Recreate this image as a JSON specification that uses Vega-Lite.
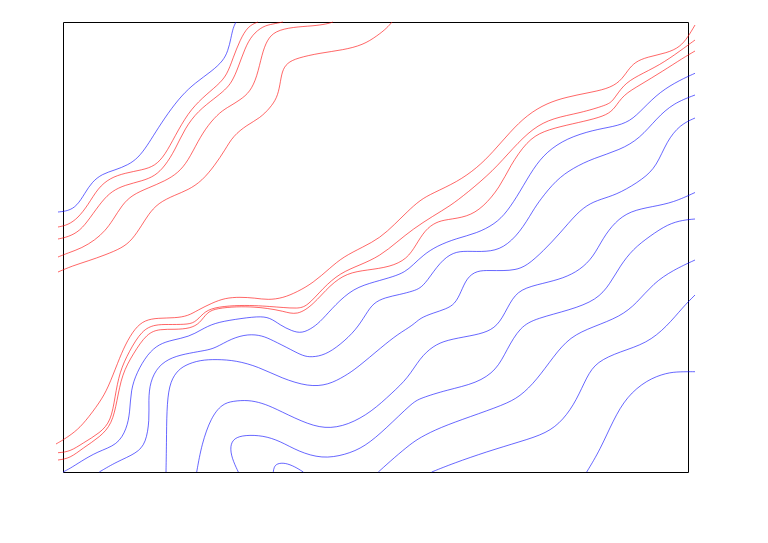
{
"$schema": "https://vega.github.io/schema/vega-lite/v6.json",
"width": 625, "height": 450, "autosize": "none",
"padding": {"left": 63, "top": 22, "right": 80, "bottom": 71},
"background": "white",
"config": {"view": {"stroke": "#000", "strokeWidth": 1}},
"datasets": {"pts": [
{"s":"B1","x":-5,"y":260},{"s":"B1","x":5,"y":261},{"s":"B1","x":14,"y":266},{"s":"B1","x":22,"y":279},{"s":"B1","x":29,"y":290},{"s":"B1","x":39,"y":298},{"s":"B1","x":52,"y":302},{"s":"B1","x":65,"y":307},{"s":"B1","x":75,"y":314},{"s":"B1","x":84,"y":326},{"s":"B1","x":92,"y":339},{"s":"B1","x":105,"y":359},{"s":"B1","x":119,"y":377},{"s":"B1","x":132,"y":389},{"s":"B1","x":149,"y":401},{"s":"B1","x":160,"y":411},{"s":"B1","x":165,"y":421},{"s":"B1","x":168,"y":434},{"s":"B1","x":170,"y":444},{"s":"B1","x":173,"y":450},
{"s":"R1","x":-5,"y":245},{"s":"R1","x":5,"y":247},{"s":"R1","x":15,"y":254},{"s":"R1","x":25,"y":267},{"s":"R1","x":35,"y":284},{"s":"R1","x":47,"y":294},{"s":"R1","x":62,"y":299},{"s":"R1","x":79,"y":302},{"s":"R1","x":92,"y":306},{"s":"R1","x":102,"y":317},{"s":"R1","x":112,"y":336},{"s":"R1","x":125,"y":359},{"s":"R1","x":139,"y":374},{"s":"R1","x":155,"y":387},{"s":"R1","x":164,"y":397},{"s":"R1","x":170,"y":414},{"s":"R1","x":177,"y":432},{"s":"R1","x":185,"y":446},{"s":"R1","x":195,"y":450},
{"s":"R2","x":-5,"y":233},{"s":"R2","x":5,"y":235},{"s":"R2","x":17,"y":241},{"s":"R2","x":27,"y":254},{"s":"R2","x":39,"y":271},{"s":"R2","x":49,"y":281},{"s":"R2","x":62,"y":287},{"s":"R2","x":79,"y":291},{"s":"R2","x":92,"y":296},{"s":"R2","x":102,"y":306},{"s":"R2","x":112,"y":322},{"s":"R2","x":122,"y":344},{"s":"R2","x":135,"y":361},{"s":"R2","x":152,"y":374},{"s":"R2","x":162,"y":382},{"s":"R2","x":169,"y":390},{"s":"R2","x":175,"y":404},{"s":"R2","x":182,"y":424},{"s":"R2","x":189,"y":437},{"s":"R2","x":200,"y":446},{"s":"R2","x":210,"y":448},{"s":"R2","x":220,"y":450},
{"s":"R3","x":-5,"y":215},{"s":"R3","x":5,"y":219},{"s":"R3","x":19,"y":224},{"s":"R3","x":32,"y":232},{"s":"R3","x":42,"y":241},{"s":"R3","x":50,"y":252},{"s":"R3","x":59,"y":267},{"s":"R3","x":69,"y":277},{"s":"R3","x":85,"y":284},{"s":"R3","x":102,"y":291},{"s":"R3","x":115,"y":299},{"s":"R3","x":125,"y":311},{"s":"R3","x":135,"y":331},{"s":"R3","x":145,"y":347},{"s":"R3","x":157,"y":360},{"s":"R3","x":167,"y":366},{"s":"R3","x":177,"y":372},{"s":"R3","x":187,"y":380},{"s":"R3","x":194,"y":395},{"s":"R3","x":199,"y":418},{"s":"R3","x":204,"y":432},{"s":"R3","x":212,"y":441},{"s":"R3","x":230,"y":445},{"s":"R3","x":250,"y":446},{"s":"R3","x":264,"y":448},{"s":"R3","x":270,"y":450},
{"s":"R4","x":-5,"y":200},{"s":"R4","x":9,"y":206},{"s":"R4","x":25,"y":211},{"s":"R4","x":42,"y":217},{"s":"R4","x":59,"y":224},{"s":"R4","x":69,"y":232},{"s":"R4","x":79,"y":247},{"s":"R4","x":85,"y":257},{"s":"R4","x":95,"y":269},{"s":"R4","x":112,"y":277},{"s":"R4","x":125,"y":282},{"s":"R4","x":139,"y":291},{"s":"R4","x":152,"y":307},{"s":"R4","x":162,"y":322},{"s":"R4","x":170,"y":336},{"s":"R4","x":184,"y":347},{"s":"R4","x":197,"y":354},{"s":"R4","x":207,"y":364},{"s":"R4","x":214,"y":374},{"s":"R4","x":217,"y":387},{"s":"R4","x":219,"y":401},{"s":"R4","x":224,"y":409},{"s":"R4","x":234,"y":414},{"s":"R4","x":257,"y":419},{"s":"R4","x":280,"y":422},{"s":"R4","x":300,"y":427},{"s":"R4","x":314,"y":436},{"s":"R4","x":324,"y":444},{"s":"R4","x":329,"y":450},
{"s":"R5","x":-7,"y":28},{"s":"R5","x":0,"y":32},{"s":"R5","x":12,"y":40},{"s":"R5","x":22,"y":50},{"s":"R5","x":37,"y":70},{"s":"R5","x":45,"y":84},{"s":"R5","x":55,"y":110},{"s":"R5","x":62,"y":127},{"s":"R5","x":72,"y":144},{"s":"R5","x":82,"y":152},{"s":"R5","x":95,"y":154},{"s":"R5","x":112,"y":154},{"s":"R5","x":125,"y":156},{"s":"R5","x":135,"y":162},{"s":"R5","x":149,"y":169},{"s":"R5","x":162,"y":174},{"s":"R5","x":177,"y":175},{"s":"R5","x":192,"y":174},{"s":"R5","x":205,"y":172},{"s":"R5","x":220,"y":174},{"s":"R5","x":234,"y":180},{"s":"R5","x":250,"y":189},{"s":"R5","x":267,"y":204},{"s":"R5","x":280,"y":215},{"s":"R5","x":300,"y":225},{"s":"R5","x":317,"y":234},{"s":"R5","x":332,"y":248},{"s":"R5","x":344,"y":260},{"s":"R5","x":357,"y":272},{"s":"R5","x":370,"y":279},{"s":"R5","x":394,"y":290},{"s":"R5","x":414,"y":304},{"s":"R5","x":430,"y":320},{"s":"R5","x":447,"y":340},{"s":"R5","x":464,"y":357},{"s":"R5","x":484,"y":369},{"s":"R5","x":504,"y":375},{"s":"R5","x":524,"y":379},{"s":"R5","x":544,"y":383},{"s":"R5","x":557,"y":390},{"s":"R5","x":565,"y":402},{"s":"R5","x":572,"y":410},{"s":"R5","x":584,"y":415},{"s":"R5","x":604,"y":419},{"s":"R5","x":617,"y":425},{"s":"R5","x":625,"y":435},{"s":"R5","x":632,"y":447},
{"s":"R6","x":-5,"y":19.3},{"s":"R6","x":7,"y":20.3},{"s":"R6","x":20,"y":29},{"s":"R6","x":37,"y":39},{"s":"R6","x":48,"y":51},{"s":"R6","x":52,"y":75},{"s":"R6","x":56.5,"y":100},{"s":"R6","x":66,"y":120.5},{"s":"R6","x":79,"y":142},{"s":"R6","x":92,"y":147.5},{"s":"R6","x":105,"y":147.5},{"s":"R6","x":122,"y":147.5},{"s":"R6","x":132,"y":149},{"s":"R6","x":140,"y":159},{"s":"R6","x":150,"y":164.5},{"s":"R6","x":172,"y":166.7},{"s":"R6","x":192,"y":166.5},{"s":"R6","x":207,"y":165.5},{"s":"R6","x":220,"y":164.5},{"s":"R6","x":234,"y":163.5},{"s":"R6","x":244,"y":165.3},{"s":"R6","x":260,"y":184},{"s":"R6","x":277,"y":199},{"s":"R6","x":297,"y":207},{"s":"R6","x":317,"y":216},{"s":"R6","x":334,"y":230},{"s":"R6","x":350,"y":243},{"s":"R6","x":370,"y":256},{"s":"R6","x":387,"y":266},{"s":"R6","x":404,"y":279},{"s":"R6","x":430,"y":301},{"s":"R6","x":450,"y":324},{"s":"R6","x":470,"y":344},{"s":"R6","x":490,"y":354},{"s":"R6","x":517,"y":359},{"s":"R6","x":544,"y":367},{"s":"R6","x":550,"y":371},{"s":"R6","x":560,"y":387},{"s":"R6","x":574,"y":396},{"s":"R6","x":597,"y":407},{"s":"R6","x":617,"y":421},{"s":"R6","x":632,"y":432},
{"s":"R7","x":-5,"y":12},{"s":"R7","x":7,"y":13.7},{"s":"R7","x":20,"y":24},{"s":"R7","x":37,"y":35},{"s":"R7","x":49,"y":48},{"s":"R7","x":54,"y":71},{"s":"R7","x":59,"y":98},{"s":"R7","x":70,"y":118},{"s":"R7","x":84,"y":139},{"s":"R7","x":97,"y":143},{"s":"R7","x":112,"y":142.5},{"s":"R7","x":127,"y":143.5},{"s":"R7","x":137,"y":148.7},{"s":"R7","x":144,"y":160},{"s":"R7","x":154,"y":163.7},{"s":"R7","x":174,"y":165.5},{"s":"R7","x":192,"y":165},{"s":"R7","x":204,"y":163.7},{"s":"R7","x":220,"y":161},{"s":"R7","x":234,"y":156.5},{"s":"R7","x":250,"y":167},{"s":"R7","x":267,"y":187},{"s":"R7","x":284,"y":199},{"s":"R7","x":304,"y":202},{"s":"R7","x":327,"y":205},{"s":"R7","x":344,"y":213},{"s":"R7","x":353,"y":227},{"s":"R7","x":362,"y":242},{"s":"R7","x":373,"y":250},{"s":"R7","x":384,"y":252.5},{"s":"R7","x":404,"y":255},{"s":"R7","x":420,"y":264.5},{"s":"R7","x":437,"y":285},{"s":"R7","x":447,"y":306},{"s":"R7","x":464,"y":331},{"s":"R7","x":480,"y":341},{"s":"R7","x":504,"y":347},{"s":"R7","x":527,"y":352},{"s":"R7","x":544,"y":357},{"s":"R7","x":552,"y":364},{"s":"R7","x":560,"y":377},{"s":"R7","x":577,"y":387},{"s":"R7","x":600,"y":401},{"s":"R7","x":620,"y":414},{"s":"R7","x":632,"y":421},
{"s":"B2","x":0,"y":0},{"s":"B2","x":7,"y":3.5},{"s":"B2","x":17,"y":10},{"s":"B2","x":34.5,"y":20.5},{"s":"B2","x":54.5,"y":27},{"s":"B2","x":63.7,"y":43},{"s":"B2","x":67,"y":60},{"s":"B2","x":67.8,"y":82},{"s":"B2","x":73.7,"y":99.5},{"s":"B2","x":84.5,"y":118},{"s":"B2","x":96,"y":128},{"s":"B2","x":109.5,"y":132},{"s":"B2","x":126,"y":135.3},{"s":"B2","x":137.8,"y":142},{"s":"B2","x":151,"y":149},{"s":"B2","x":172,"y":152.7},{"s":"B2","x":195.3,"y":155.8},{"s":"B2","x":207,"y":154.5},{"s":"B2","x":217,"y":147},{"s":"B2","x":228.7,"y":141},{"s":"B2","x":239,"y":138.5},{"s":"B2","x":250.3,"y":144.5},{"s":"B2","x":259,"y":152},{"s":"B2","x":272,"y":167},{"s":"B2","x":290.3,"y":183.7},{"s":"B2","x":312,"y":190.3},{"s":"B2","x":330.3,"y":195.3},{"s":"B2","x":342,"y":200},{"s":"B2","x":350,"y":207},{"s":"B2","x":360.3,"y":217},{"s":"B2","x":373.7,"y":226},{"s":"B2","x":393.7,"y":233.7},{"s":"B2","x":413.7,"y":238.7},{"s":"B2","x":432,"y":248},{"s":"B2","x":444,"y":260},{"s":"B2","x":457,"y":280.3},{"s":"B2","x":470.3,"y":303.7},{"s":"B2","x":483.7,"y":320.3},{"s":"B2","x":503.7,"y":333.7},{"s":"B2","x":530.3,"y":342},{"s":"B2","x":550.3,"y":345.3},{"s":"B2","x":567,"y":350.3},{"s":"B2","x":580.3,"y":363.7},{"s":"B2","x":597,"y":380.3},{"s":"B2","x":617,"y":392},{"s":"B2","x":632,"y":398.7},
{"s":"B3","x":36.3,"y":0},{"s":"B3","x":53.7,"y":10.3},{"s":"B3","x":73.7,"y":18.7},{"s":"B3","x":83,"y":29},{"s":"B3","x":86.5,"y":52},{"s":"B3","x":85.5,"y":72},{"s":"B3","x":87,"y":90},{"s":"B3","x":95,"y":106},{"s":"B3","x":109,"y":115},{"s":"B3","x":127,"y":119},{"s":"B3","x":142,"y":121.5},{"s":"B3","x":152,"y":123.7},{"s":"B3","x":168.7,"y":133.7},{"s":"B3","x":185.3,"y":138},{"s":"B3","x":199,"y":136.5},{"s":"B3","x":209,"y":132},{"s":"B3","x":228.7,"y":122},{"s":"B3","x":240,"y":116},{"s":"B3","x":248.7,"y":114.7},{"s":"B3","x":262,"y":117},{"s":"B3","x":277,"y":127},{"s":"B3","x":293,"y":142},{"s":"B3","x":303,"y":158},{"s":"B3","x":310.3,"y":169},{"s":"B3","x":322,"y":174.5},{"s":"B3","x":337,"y":177.5},{"s":"B3","x":350.3,"y":181},{"s":"B3","x":357,"y":183.7},{"s":"B3","x":363.7,"y":190.3},{"s":"B3","x":377,"y":210},{"s":"B3","x":390.3,"y":220},{"s":"B3","x":403.7,"y":221},{"s":"B3","x":423.7,"y":220},{"s":"B3","x":440.3,"y":223.7},{"s":"B3","x":457,"y":239.5},{"s":"B3","x":470.3,"y":262},{"s":"B3","x":477,"y":272},{"s":"B3","x":493,"y":292},{"s":"B3","x":510,"y":304},{"s":"B3","x":530.3,"y":313.7},{"s":"B3","x":557,"y":322},{"s":"B3","x":577,"y":333.7},{"s":"B3","x":593.7,"y":353.7},{"s":"B3","x":610.3,"y":368.7},{"s":"B3","x":632,"y":377},
{"s":"B4","x":103,"y":0},{"s":"B4","x":103.5,"y":29},{"s":"B4","x":103.7,"y":62},{"s":"B4","x":106,"y":87},{"s":"B4","x":113,"y":100},{"s":"B4","x":122,"y":107},{"s":"B4","x":137,"y":112},{"s":"B4","x":153.7,"y":112.7},{"s":"B4","x":173,"y":111.5},{"s":"B4","x":195.3,"y":105.3},{"s":"B4","x":218.7,"y":93.7},{"s":"B4","x":245.3,"y":85.3},{"s":"B4","x":265.3,"y":87},{"s":"B4","x":282,"y":96},{"s":"B4","x":294,"y":104},{"s":"B4","x":318.7,"y":125},{"s":"B4","x":335,"y":138},{"s":"B4","x":350.3,"y":147},{"s":"B4","x":357,"y":154},{"s":"B4","x":370.3,"y":159},{"s":"B4","x":383,"y":163},{"s":"B4","x":392,"y":168},{"s":"B4","x":398,"y":180},{"s":"B4","x":403.7,"y":194},{"s":"B4","x":413.7,"y":201.5},{"s":"B4","x":427,"y":201.5},{"s":"B4","x":440.3,"y":201.3},{"s":"B4","x":452,"y":202},{"s":"B4","x":463.7,"y":206},{"s":"B4","x":480.3,"y":221},{"s":"B4","x":497,"y":238.7},{"s":"B4","x":513.7,"y":258.7},{"s":"B4","x":527,"y":269},{"s":"B4","x":542,"y":274},{"s":"B4","x":557,"y":279},{"s":"B4","x":580.3,"y":293},{"s":"B4","x":593.7,"y":306},{"s":"B4","x":603.7,"y":330.7},{"s":"B4","x":617,"y":347.3},{"s":"B4","x":632,"y":354},
{"s":"B5","x":133.7,"y":0},{"s":"B5","x":138.7,"y":28},{"s":"B5","x":148,"y":54.5},{"s":"B5","x":159,"y":68},{"s":"B5","x":170,"y":71},{"s":"B5","x":185.3,"y":72},{"s":"B5","x":199,"y":69},{"s":"B5","x":212,"y":63.7},{"s":"B5","x":238.7,"y":50.3},{"s":"B5","x":262,"y":42.7},{"s":"B5","x":285.3,"y":47},{"s":"B5","x":308.7,"y":60.3},{"s":"B5","x":328.7,"y":78.7},{"s":"B5","x":345,"y":94},{"s":"B5","x":357,"y":114},{"s":"B5","x":370,"y":126},{"s":"B5","x":383.7,"y":132},{"s":"B5","x":407,"y":136},{"s":"B5","x":425,"y":140},{"s":"B5","x":437,"y":148.7},{"s":"B5","x":447,"y":170},{"s":"B5","x":457,"y":183},{"s":"B5","x":480.3,"y":188.7},{"s":"B5","x":500.3,"y":193.7},{"s":"B5","x":517,"y":202},{"s":"B5","x":530.3,"y":215},{"s":"B5","x":540,"y":234},{"s":"B5","x":552,"y":250},{"s":"B5","x":567,"y":261},{"s":"B5","x":590,"y":265.5},{"s":"B5","x":610.3,"y":269.5},{"s":"B5","x":632,"y":279.5},
{"s":"B6","x":175.3,"y":0},{"s":"B6","x":168.7,"y":14},{"s":"B6","x":167,"y":26},{"s":"B6","x":171,"y":34},{"s":"B6","x":182,"y":37},{"s":"B6","x":200,"y":36.5},{"s":"B6","x":217,"y":31},{"s":"B6","x":235.3,"y":20.5},{"s":"B6","x":259,"y":13.2},{"s":"B6","x":282,"y":17},{"s":"B6","x":302,"y":25.3},{"s":"B6","x":323,"y":43.5},{"s":"B6","x":349,"y":69},{"s":"B6","x":357,"y":73.7},{"s":"B6","x":383.7,"y":82},{"s":"B6","x":413.7,"y":88.7},{"s":"B6","x":433.7,"y":102},{"s":"B6","x":443.7,"y":122},{"s":"B6","x":457,"y":145.3},{"s":"B6","x":473.7,"y":153.7},{"s":"B6","x":507,"y":162},{"s":"B6","x":533.7,"y":172},{"s":"B6","x":547,"y":188},{"s":"B6","x":557,"y":206},{"s":"B6","x":570,"y":223},{"s":"B6","x":587,"y":236},{"s":"B6","x":605,"y":248},{"s":"B6","x":620.3,"y":252},{"s":"B6","x":632,"y":253},
{"s":"B7","x":315.3,"y":0},{"s":"B7","x":332,"y":15},{"s":"B7","x":347,"y":27.5},{"s":"B7","x":357,"y":34.5},{"s":"B7","x":377,"y":44.5},{"s":"B7","x":407,"y":55.3},{"s":"B7","x":440.3,"y":67},{"s":"B7","x":457,"y":75.3},{"s":"B7","x":473.7,"y":92},{"s":"B7","x":490.3,"y":115.3},{"s":"B7","x":507,"y":135.3},{"s":"B7","x":530.3,"y":145.3},{"s":"B7","x":557,"y":155.3},{"s":"B7","x":573.7,"y":168.7},{"s":"B7","x":590.3,"y":188.7},{"s":"B7","x":610.3,"y":202},{"s":"B7","x":632,"y":212},
{"s":"B8","x":368.7,"y":0},{"s":"B8","x":390.3,"y":8.7},{"s":"B8","x":423.7,"y":20.3},{"s":"B8","x":457,"y":30.3},{"s":"B8","x":483.7,"y":38.7},{"s":"B8","x":500.3,"y":52},{"s":"B8","x":513.7,"y":72},{"s":"B8","x":523.7,"y":95.3},{"s":"B8","x":533.7,"y":110.3},{"s":"B8","x":557,"y":120.3},{"s":"B8","x":583.7,"y":128.7},{"s":"B8","x":603.7,"y":145.3},{"s":"B8","x":620.3,"y":165.3},{"s":"B8","x":632,"y":177},
{"s":"B9","x":523.7,"y":0},{"s":"B9","x":537,"y":22},{"s":"B9","x":550.3,"y":52},{"s":"B9","x":563.7,"y":75.3},{"s":"B9","x":583.7,"y":92},{"s":"B9","x":603.7,"y":99.3},{"s":"B9","x":617,"y":100.3},{"s":"B9","x":632,"y":100.3},
{"s":"L","x":210.3,"y":0},{"s":"L","x":211,"y":5},{"s":"L","x":214,"y":8.5},{"s":"L","x":222,"y":9.3},{"s":"L","x":232,"y":5.3},{"s":"L","x":240.3,"y":0}
]},
"data": {"name": "pts"},
"mark": {"type": "line", "interpolate": "basis", "strokeWidth": 0.6, "clip": false},
"encoding": {
  "x": {"field": "x", "type": "quantitative", "scale": {"domain": [0, 625], "nice": false, "zero": false}, "axis": null},
  "y": {"field": "y", "type": "quantitative", "scale": {"domain": [0, 450], "nice": false, "zero": false}, "axis": null},
  "color": {"field": "s", "type": "nominal", "legend": null,
    "scale": {"domain": ["B1","B2","B3","B4","B5","B6","B7","B8","B9","L","R1","R2","R3","R4","R5","R6","R7"],
              "range": ["#0000ff","#0000ff","#0000ff","#0000ff","#0000ff","#0000ff","#0000ff","#0000ff","#0000ff","#0000ff","#ff0000","#ff0000","#ff0000","#ff0000","#ff0000","#ff0000","#ff0000"]}},
  "order": {"value": null}
}
}
